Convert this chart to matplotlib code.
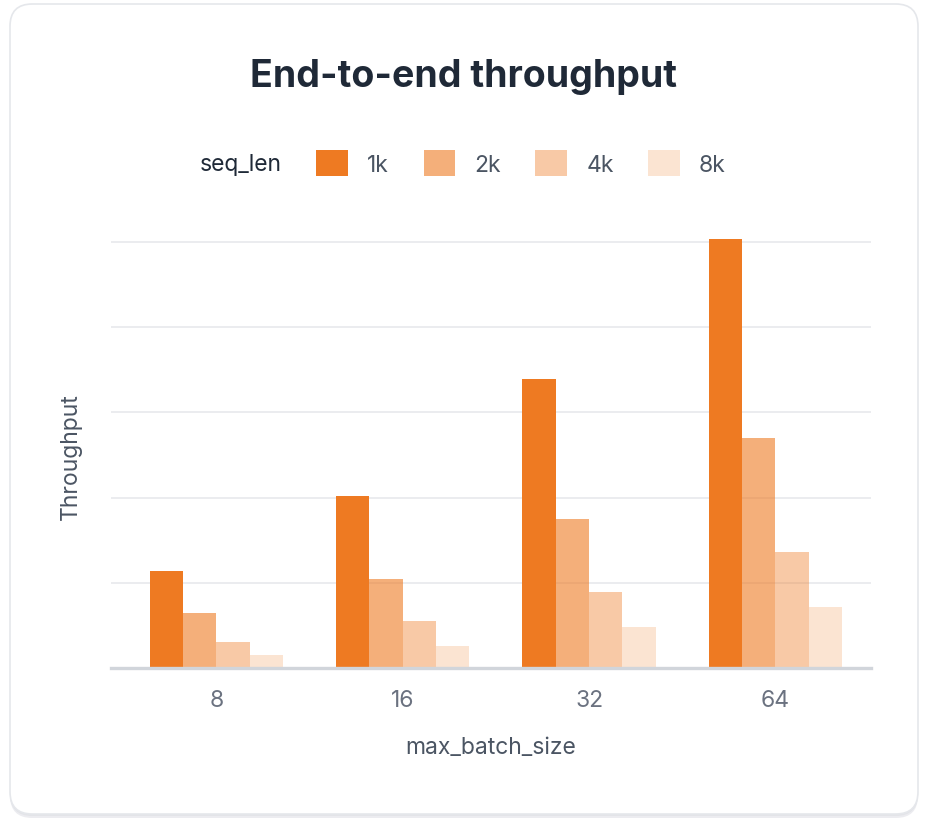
#!/usr/bin/env python3
"""
Grouped bar chart: end-to-end throughput by max_batch_size and seq_len
"""
import numpy as np
import matplotlib
matplotlib.use('Agg')
import matplotlib.pyplot as plt
from matplotlib.patches import FancyBboxPatch
from matplotlib.colors import to_rgba

# data (throughput, arbitrary units)
batch_sizes = ['8', '16', '32', '64']
seq_lens = ['1k', '2k', '4k', '8k']
tp_1k = [1140, 2020, 3390, 5035]
tp_2k = [646, 1048, 1750, 2700]
tp_4k = [305, 555, 892, 1360]
tp_8k = [149, 258, 481, 712]
series = [tp_1k, tp_2k, tp_4k, tp_8k]
alphas = [1.0, 0.6, 0.4, 0.2]
base = '#ee7a22'

plt.rcParams['font.family'] = ['Inter', 'DejaVu Sans']

W, H = 928, 828
fs = 16.5
fig = plt.figure(figsize=(W / 100, H / 100), dpi=100)
fig.patch.set_facecolor('white')

# card with soft shadow
for off, col, z in [(4, '#ececf0', -3), (2, '#e3e4e8', -2)]:
    fig.patches.append(FancyBboxPatch(
        (10 / W, (H - 815 - off) / H), 908 / W, 810 / H,
        boxstyle='round,pad=0,rounding_size=0.024',
        transform=fig.transFigure, facecolor=col, edgecolor='none',
        zorder=z, mutation_aspect=W / H))
fig.patches.append(FancyBboxPatch(
    (10 / W, (H - 815) / H), 908 / W, 810 / H,
    boxstyle='round,pad=0,rounding_size=0.024',
    transform=fig.transFigure, facecolor='white', edgecolor='#e5e7eb',
    linewidth=1.2, zorder=-1, mutation_aspect=W / H))

ax = fig.add_axes([111 / W, (H - 669) / H, 760 / W, 439 / H])
ax.set_facecolor('none')

x = np.arange(len(batch_sizes))
width = 0.179
bars = []
for i, (vals, a) in enumerate(zip(series, alphas)):
    b = ax.bar(x + (i - 1.5) * width, vals, width=width,
               color=to_rgba(base, a), edgecolor='none', zorder=3,
               label=seq_lens[i])
    bars.append(b)

ax.set_xlim(-0.566, 3.513)
ax.set_ylim(0, 5152)
ax.set_yticks([1000, 2000, 3000, 4000, 5000])
ax.yaxis.grid(True, color='#e5e7eb', linewidth=1.1, zorder=0)
ax.set_axisbelow(True)
ax.tick_params(axis='y', left=False, labelleft=False)
ax.set_xticks(x)
ax.set_xticklabels(batch_sizes, fontsize=fs, color='#6b7280')
ax.tick_params(axis='x', length=0, pad=15)
for s in ['top', 'right', 'left']:
    ax.spines[s].set_visible(False)
ax.spines['bottom'].set_color('#d1d5db')
ax.spines['bottom'].set_linewidth(2.4)
ax.spines['bottom'].set_zorder(4)

ax.set_xlabel('max_batch_size', fontsize=fs, color='#4b5563', labelpad=18)
fig.text(71 / W, 1 - 457 / H, 'Throughput', rotation=90, fontsize=fs,
         color='#4b5563', ha='center', va='center')

fig.text(464 / W, 1 - 77 / H, 'End-to-end throughput', fontsize=27,
         fontweight='bold', color='#1f2937', ha='center', va='center')

fig.text(200 / W, 1 - 165 / H, 'seq_len', fontsize=fs, color='#1f2937',
         ha='left', va='center')
fig.legend(handles=bars, labels=seq_lens, loc='center left',
           bbox_to_anchor=(305 / W, 1 - 164 / H), ncol=4, frameon=False,
           fontsize=fs, handlelength=1.39, handleheight=1.39,
           handletextpad=0.83, columnspacing=1.5, borderpad=0,
           labelcolor='#4b5563')

fig.savefig('out.png', dpi=100, facecolor='white')
